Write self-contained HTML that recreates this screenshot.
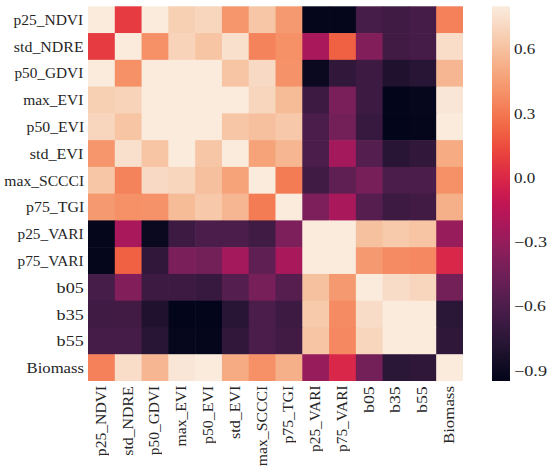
<!DOCTYPE html>
<html><head><meta charset="utf-8"><style>
html,body{margin:0;padding:0;background:#fff;width:550px;height:470px;overflow:hidden}
body{position:relative;font-family:"Liberation Serif",serif;font-size:14.5px;line-height:16px;color:#262626}
.t,.c,.r{position:absolute;white-space:nowrap;height:16px}
.t span{display:inline-block;transform-origin:100% 50%}
.c span{display:inline-block;transform-origin:0 50%}
.r{width:100px;text-align:right;transform-origin:0 0;transform:rotate(-90deg)}
.r span{display:inline-block;transform-origin:100% 50%}
</style></head><body>
<svg style="position:absolute;left:0;top:0" width="550" height="470" viewBox="0 0 550 470"><defs><linearGradient id="g" x1="0" y1="0" x2="0" y2="1"><stop offset="0.0000" stop-color="#faebdd"/><stop offset="0.0156" stop-color="#fae6d6"/><stop offset="0.0312" stop-color="#f9e0cd"/><stop offset="0.0469" stop-color="#f8dac5"/><stop offset="0.0625" stop-color="#f8d4bc"/><stop offset="0.0781" stop-color="#f7cfb3"/><stop offset="0.0938" stop-color="#f7c9aa"/><stop offset="0.1094" stop-color="#f7c2a2"/><stop offset="0.1250" stop-color="#f6bc99"/><stop offset="0.1406" stop-color="#f6b691"/><stop offset="0.1562" stop-color="#f6b089"/><stop offset="0.1719" stop-color="#f6a981"/><stop offset="0.1875" stop-color="#f6a37a"/><stop offset="0.2031" stop-color="#f69c73"/><stop offset="0.2188" stop-color="#f5966c"/><stop offset="0.2344" stop-color="#f58f66"/><stop offset="0.2500" stop-color="#f58860"/><stop offset="0.2656" stop-color="#f4815a"/><stop offset="0.2812" stop-color="#f47a54"/><stop offset="0.2969" stop-color="#f3734e"/><stop offset="0.3125" stop-color="#f26b49"/><stop offset="0.3281" stop-color="#f16445"/><stop offset="0.3438" stop-color="#f05c42"/><stop offset="0.3594" stop-color="#ee543f"/><stop offset="0.3750" stop-color="#ec4c3e"/><stop offset="0.3906" stop-color="#ea443e"/><stop offset="0.4062" stop-color="#e73d3f"/><stop offset="0.4219" stop-color="#e33641"/><stop offset="0.4375" stop-color="#df2f44"/><stop offset="0.4531" stop-color="#db2946"/><stop offset="0.4688" stop-color="#d62449"/><stop offset="0.4844" stop-color="#d11f4c"/><stop offset="0.5000" stop-color="#cb1b4f"/><stop offset="0.5156" stop-color="#c51852"/><stop offset="0.5312" stop-color="#bf1654"/><stop offset="0.5469" stop-color="#b91657"/><stop offset="0.5625" stop-color="#b21758"/><stop offset="0.5781" stop-color="#ab185a"/><stop offset="0.5938" stop-color="#a4195b"/><stop offset="0.6094" stop-color="#9e1a5b"/><stop offset="0.6250" stop-color="#971c5b"/><stop offset="0.6406" stop-color="#901d5b"/><stop offset="0.6562" stop-color="#891e5b"/><stop offset="0.6719" stop-color="#821e5a"/><stop offset="0.6875" stop-color="#7b1f59"/><stop offset="0.7031" stop-color="#751f58"/><stop offset="0.7188" stop-color="#6e1f57"/><stop offset="0.7344" stop-color="#681f55"/><stop offset="0.7500" stop-color="#611f53"/><stop offset="0.7656" stop-color="#5b1e51"/><stop offset="0.7812" stop-color="#541e4e"/><stop offset="0.7969" stop-color="#4e1d4b"/><stop offset="0.8125" stop-color="#481c48"/><stop offset="0.8281" stop-color="#421b45"/><stop offset="0.8438" stop-color="#3c1a42"/><stop offset="0.8594" stop-color="#35193e"/><stop offset="0.8750" stop-color="#30173a"/><stop offset="0.8906" stop-color="#2a1636"/><stop offset="0.9062" stop-color="#241432"/><stop offset="0.9219" stop-color="#1e122d"/><stop offset="0.9375" stop-color="#180f29"/><stop offset="0.9531" stop-color="#130d25"/><stop offset="0.9688" stop-color="#0d0a21"/><stop offset="0.9844" stop-color="#07071d"/><stop offset="1.0000" stop-color="#03051a"/></linearGradient></defs><rect x="88.00" y="6.30" width="27.39" height="27.36" fill="#faebdd"/><rect x="114.79" y="6.30" width="27.39" height="27.36" fill="#e63b40"/><rect x="141.57" y="6.30" width="27.39" height="27.36" fill="#faebdd"/><rect x="168.36" y="6.30" width="27.39" height="27.36" fill="#f7cfb3"/><rect x="195.14" y="6.30" width="27.39" height="27.36" fill="#f8d6be"/><rect x="221.93" y="6.30" width="27.39" height="27.36" fill="#f5966c"/><rect x="248.71" y="6.30" width="27.39" height="27.36" fill="#f7c6a6"/><rect x="275.50" y="6.30" width="27.39" height="27.36" fill="#f59970"/><rect x="302.29" y="6.30" width="27.39" height="27.36" fill="#05061b"/><rect x="329.07" y="6.30" width="27.39" height="27.36" fill="#05061b"/><rect x="355.86" y="6.30" width="27.39" height="27.36" fill="#461c48"/><rect x="382.64" y="6.30" width="27.39" height="27.36" fill="#401b44"/><rect x="409.43" y="6.30" width="27.39" height="27.36" fill="#451c47"/><rect x="436.21" y="6.30" width="26.79" height="27.36" fill="#f4815a"/><rect x="88.00" y="33.06" width="27.39" height="27.36" fill="#e63b40"/><rect x="114.79" y="33.06" width="27.39" height="27.36" fill="#faebdd"/><rect x="141.57" y="33.06" width="27.39" height="27.36" fill="#f59067"/><rect x="168.36" y="33.06" width="27.39" height="27.36" fill="#f8d3ba"/><rect x="195.14" y="33.06" width="27.39" height="27.36" fill="#f7c4a4"/><rect x="221.93" y="33.06" width="27.39" height="27.36" fill="#f9e0cd"/><rect x="248.71" y="33.06" width="27.39" height="27.36" fill="#f4835b"/><rect x="275.50" y="33.06" width="27.39" height="27.36" fill="#f59067"/><rect x="302.29" y="33.06" width="27.39" height="27.36" fill="#a8185a"/><rect x="329.07" y="33.06" width="27.39" height="27.36" fill="#f06043"/><rect x="355.86" y="33.06" width="27.39" height="27.36" fill="#821e5a"/><rect x="382.64" y="33.06" width="27.39" height="27.36" fill="#421b45"/><rect x="409.43" y="33.06" width="27.39" height="27.36" fill="#451c47"/><rect x="436.21" y="33.06" width="26.79" height="27.36" fill="#f9ddc9"/><rect x="88.00" y="59.83" width="27.39" height="27.36" fill="#faebdd"/><rect x="114.79" y="59.83" width="27.39" height="27.36" fill="#f59067"/><rect x="141.57" y="59.83" width="27.39" height="27.36" fill="#faebdd"/><rect x="168.36" y="59.83" width="27.39" height="27.36" fill="#faebdd"/><rect x="195.14" y="59.83" width="27.39" height="27.36" fill="#faebdd"/><rect x="221.93" y="59.83" width="27.39" height="27.36" fill="#f7c4a4"/><rect x="248.71" y="59.83" width="27.39" height="27.36" fill="#f8d9c3"/><rect x="275.50" y="59.83" width="27.39" height="27.36" fill="#f59269"/><rect x="302.29" y="59.83" width="27.39" height="27.36" fill="#0a091f"/><rect x="329.07" y="59.83" width="27.39" height="27.36" fill="#31183b"/><rect x="355.86" y="59.83" width="27.39" height="27.36" fill="#3d1a42"/><rect x="382.64" y="59.83" width="27.39" height="27.36" fill="#20122e"/><rect x="409.43" y="59.83" width="27.39" height="27.36" fill="#281535"/><rect x="436.21" y="59.83" width="26.79" height="27.36" fill="#f6b691"/><rect x="88.00" y="86.59" width="27.39" height="27.36" fill="#f7cfb3"/><rect x="114.79" y="86.59" width="27.39" height="27.36" fill="#f8d3ba"/><rect x="141.57" y="86.59" width="27.39" height="27.36" fill="#faebdd"/><rect x="168.36" y="86.59" width="27.39" height="27.36" fill="#faebdd"/><rect x="195.14" y="86.59" width="27.39" height="27.36" fill="#faebdd"/><rect x="221.93" y="86.59" width="27.39" height="27.36" fill="#faebdd"/><rect x="248.71" y="86.59" width="27.39" height="27.36" fill="#f8d6be"/><rect x="275.50" y="86.59" width="27.39" height="27.36" fill="#f6bb97"/><rect x="302.29" y="86.59" width="27.39" height="27.36" fill="#3c1a42"/><rect x="329.07" y="86.59" width="27.39" height="27.36" fill="#7a1f59"/><rect x="355.86" y="86.59" width="27.39" height="27.36" fill="#3d1a42"/><rect x="382.64" y="86.59" width="27.39" height="27.36" fill="#03051a"/><rect x="409.43" y="86.59" width="27.39" height="27.36" fill="#06071c"/><rect x="436.21" y="86.59" width="26.79" height="27.36" fill="#fae6d6"/><rect x="88.00" y="113.36" width="27.39" height="27.36" fill="#f8d6be"/><rect x="114.79" y="113.36" width="27.39" height="27.36" fill="#f7c4a4"/><rect x="141.57" y="113.36" width="27.39" height="27.36" fill="#faebdd"/><rect x="168.36" y="113.36" width="27.39" height="27.36" fill="#faebdd"/><rect x="195.14" y="113.36" width="27.39" height="27.36" fill="#faebdd"/><rect x="221.93" y="113.36" width="27.39" height="27.36" fill="#f7c6a6"/><rect x="248.71" y="113.36" width="27.39" height="27.36" fill="#f6bf9d"/><rect x="275.50" y="113.36" width="27.39" height="27.36" fill="#f7c9aa"/><rect x="302.29" y="113.36" width="27.39" height="27.36" fill="#4b1d4a"/><rect x="329.07" y="113.36" width="27.39" height="27.36" fill="#731f58"/><rect x="355.86" y="113.36" width="27.39" height="27.36" fill="#37193f"/><rect x="382.64" y="113.36" width="27.39" height="27.36" fill="#03051a"/><rect x="409.43" y="113.36" width="27.39" height="27.36" fill="#05061b"/><rect x="436.21" y="113.36" width="26.79" height="27.36" fill="#faebdd"/><rect x="88.00" y="140.12" width="27.39" height="27.36" fill="#f5966c"/><rect x="114.79" y="140.12" width="27.39" height="27.36" fill="#f9e0cd"/><rect x="141.57" y="140.12" width="27.39" height="27.36" fill="#f7c4a4"/><rect x="168.36" y="140.12" width="27.39" height="27.36" fill="#faebdd"/><rect x="195.14" y="140.12" width="27.39" height="27.36" fill="#f7c6a6"/><rect x="221.93" y="140.12" width="27.39" height="27.36" fill="#faebdd"/><rect x="248.71" y="140.12" width="27.39" height="27.36" fill="#f6a37a"/><rect x="275.50" y="140.12" width="27.39" height="27.36" fill="#f6b691"/><rect x="302.29" y="140.12" width="27.39" height="27.36" fill="#4b1d4a"/><rect x="329.07" y="140.12" width="27.39" height="27.36" fill="#a4195b"/><rect x="355.86" y="140.12" width="27.39" height="27.36" fill="#541e4e"/><rect x="382.64" y="140.12" width="27.39" height="27.36" fill="#281535"/><rect x="409.43" y="140.12" width="27.39" height="27.36" fill="#31183b"/><rect x="436.21" y="140.12" width="26.79" height="27.36" fill="#f6ab83"/><rect x="88.00" y="166.89" width="27.39" height="27.36" fill="#f7c6a6"/><rect x="114.79" y="166.89" width="27.39" height="27.36" fill="#f4835b"/><rect x="141.57" y="166.89" width="27.39" height="27.36" fill="#f8d9c3"/><rect x="168.36" y="166.89" width="27.39" height="27.36" fill="#f8d6be"/><rect x="195.14" y="166.89" width="27.39" height="27.36" fill="#f6bf9d"/><rect x="221.93" y="166.89" width="27.39" height="27.36" fill="#f6a37a"/><rect x="248.71" y="166.89" width="27.39" height="27.36" fill="#faebdd"/><rect x="275.50" y="166.89" width="27.39" height="27.36" fill="#f47c55"/><rect x="302.29" y="166.89" width="27.39" height="27.36" fill="#401b44"/><rect x="329.07" y="166.89" width="27.39" height="27.36" fill="#601f52"/><rect x="355.86" y="166.89" width="27.39" height="27.36" fill="#761f58"/><rect x="382.64" y="166.89" width="27.39" height="27.36" fill="#4b1d4a"/><rect x="409.43" y="166.89" width="27.39" height="27.36" fill="#4b1d4a"/><rect x="436.21" y="166.89" width="26.79" height="27.36" fill="#f59067"/><rect x="88.00" y="193.65" width="27.39" height="27.36" fill="#f59970"/><rect x="114.79" y="193.65" width="27.39" height="27.36" fill="#f59067"/><rect x="141.57" y="193.65" width="27.39" height="27.36" fill="#f59269"/><rect x="168.36" y="193.65" width="27.39" height="27.36" fill="#f6bb97"/><rect x="195.14" y="193.65" width="27.39" height="27.36" fill="#f7c9aa"/><rect x="221.93" y="193.65" width="27.39" height="27.36" fill="#f6b691"/><rect x="248.71" y="193.65" width="27.39" height="27.36" fill="#f47c55"/><rect x="275.50" y="193.65" width="27.39" height="27.36" fill="#faebdd"/><rect x="302.29" y="193.65" width="27.39" height="27.36" fill="#7d1f5a"/><rect x="329.07" y="193.65" width="27.39" height="27.36" fill="#a8185a"/><rect x="355.86" y="193.65" width="27.39" height="27.36" fill="#561e4f"/><rect x="382.64" y="193.65" width="27.39" height="27.36" fill="#3c1a42"/><rect x="409.43" y="193.65" width="27.39" height="27.36" fill="#421b45"/><rect x="436.21" y="193.65" width="26.79" height="27.36" fill="#f6b089"/><rect x="88.00" y="220.41" width="27.39" height="27.36" fill="#05061b"/><rect x="114.79" y="220.41" width="27.39" height="27.36" fill="#a8185a"/><rect x="141.57" y="220.41" width="27.39" height="27.36" fill="#0a091f"/><rect x="168.36" y="220.41" width="27.39" height="27.36" fill="#3c1a42"/><rect x="195.14" y="220.41" width="27.39" height="27.36" fill="#4b1d4a"/><rect x="221.93" y="220.41" width="27.39" height="27.36" fill="#4b1d4a"/><rect x="248.71" y="220.41" width="27.39" height="27.36" fill="#401b44"/><rect x="275.50" y="220.41" width="27.39" height="27.36" fill="#7d1f5a"/><rect x="302.29" y="220.41" width="27.39" height="27.36" fill="#faebdd"/><rect x="329.07" y="220.41" width="27.39" height="27.36" fill="#faebdd"/><rect x="355.86" y="220.41" width="27.39" height="27.36" fill="#f6c19f"/><rect x="382.64" y="220.41" width="27.39" height="27.36" fill="#f7caac"/><rect x="409.43" y="220.41" width="27.39" height="27.36" fill="#f7c4a4"/><rect x="436.21" y="220.41" width="26.79" height="27.36" fill="#971c5b"/><rect x="88.00" y="247.18" width="27.39" height="27.36" fill="#05061b"/><rect x="114.79" y="247.18" width="27.39" height="27.36" fill="#f06043"/><rect x="141.57" y="247.18" width="27.39" height="27.36" fill="#31183b"/><rect x="168.36" y="247.18" width="27.39" height="27.36" fill="#7a1f59"/><rect x="195.14" y="247.18" width="27.39" height="27.36" fill="#731f58"/><rect x="221.93" y="247.18" width="27.39" height="27.36" fill="#a4195b"/><rect x="248.71" y="247.18" width="27.39" height="27.36" fill="#601f52"/><rect x="275.50" y="247.18" width="27.39" height="27.36" fill="#a8185a"/><rect x="302.29" y="247.18" width="27.39" height="27.36" fill="#faebdd"/><rect x="329.07" y="247.18" width="27.39" height="27.36" fill="#faebdd"/><rect x="355.86" y="247.18" width="27.39" height="27.36" fill="#f59970"/><rect x="382.64" y="247.18" width="27.39" height="27.36" fill="#f58b63"/><rect x="409.43" y="247.18" width="27.39" height="27.36" fill="#f58860"/><rect x="436.21" y="247.18" width="26.79" height="27.36" fill="#d82748"/><rect x="88.00" y="273.94" width="27.39" height="27.36" fill="#461c48"/><rect x="114.79" y="273.94" width="27.39" height="27.36" fill="#821e5a"/><rect x="141.57" y="273.94" width="27.39" height="27.36" fill="#3d1a42"/><rect x="168.36" y="273.94" width="27.39" height="27.36" fill="#3d1a42"/><rect x="195.14" y="273.94" width="27.39" height="27.36" fill="#37193f"/><rect x="221.93" y="273.94" width="27.39" height="27.36" fill="#541e4e"/><rect x="248.71" y="273.94" width="27.39" height="27.36" fill="#761f58"/><rect x="275.50" y="273.94" width="27.39" height="27.36" fill="#561e4f"/><rect x="302.29" y="273.94" width="27.39" height="27.36" fill="#f6c19f"/><rect x="329.07" y="273.94" width="27.39" height="27.36" fill="#f59970"/><rect x="355.86" y="273.94" width="27.39" height="27.36" fill="#faebdd"/><rect x="382.64" y="273.94" width="27.39" height="27.36" fill="#f8dcc7"/><rect x="409.43" y="273.94" width="27.39" height="27.36" fill="#f8d6be"/><rect x="436.21" y="273.94" width="26.79" height="27.36" fill="#731f58"/><rect x="88.00" y="300.71" width="27.39" height="27.36" fill="#401b44"/><rect x="114.79" y="300.71" width="27.39" height="27.36" fill="#421b45"/><rect x="141.57" y="300.71" width="27.39" height="27.36" fill="#20122e"/><rect x="168.36" y="300.71" width="27.39" height="27.36" fill="#03051a"/><rect x="195.14" y="300.71" width="27.39" height="27.36" fill="#03051a"/><rect x="221.93" y="300.71" width="27.39" height="27.36" fill="#281535"/><rect x="248.71" y="300.71" width="27.39" height="27.36" fill="#4b1d4a"/><rect x="275.50" y="300.71" width="27.39" height="27.36" fill="#3c1a42"/><rect x="302.29" y="300.71" width="27.39" height="27.36" fill="#f7caac"/><rect x="329.07" y="300.71" width="27.39" height="27.36" fill="#f58b63"/><rect x="355.86" y="300.71" width="27.39" height="27.36" fill="#f8dcc7"/><rect x="382.64" y="300.71" width="27.39" height="27.36" fill="#faebdd"/><rect x="409.43" y="300.71" width="27.39" height="27.36" fill="#faebdd"/><rect x="436.21" y="300.71" width="26.79" height="27.36" fill="#2a1636"/><rect x="88.00" y="327.47" width="27.39" height="27.36" fill="#451c47"/><rect x="114.79" y="327.47" width="27.39" height="27.36" fill="#451c47"/><rect x="141.57" y="327.47" width="27.39" height="27.36" fill="#281535"/><rect x="168.36" y="327.47" width="27.39" height="27.36" fill="#06071c"/><rect x="195.14" y="327.47" width="27.39" height="27.36" fill="#05061b"/><rect x="221.93" y="327.47" width="27.39" height="27.36" fill="#31183b"/><rect x="248.71" y="327.47" width="27.39" height="27.36" fill="#4b1d4a"/><rect x="275.50" y="327.47" width="27.39" height="27.36" fill="#421b45"/><rect x="302.29" y="327.47" width="27.39" height="27.36" fill="#f7c4a4"/><rect x="329.07" y="327.47" width="27.39" height="27.36" fill="#f58860"/><rect x="355.86" y="327.47" width="27.39" height="27.36" fill="#f8d6be"/><rect x="382.64" y="327.47" width="27.39" height="27.36" fill="#faebdd"/><rect x="409.43" y="327.47" width="27.39" height="27.36" fill="#faebdd"/><rect x="436.21" y="327.47" width="26.79" height="27.36" fill="#2e1739"/><rect x="88.00" y="354.24" width="27.39" height="26.76" fill="#f4815a"/><rect x="114.79" y="354.24" width="27.39" height="26.76" fill="#f9ddc9"/><rect x="141.57" y="354.24" width="27.39" height="26.76" fill="#f6b691"/><rect x="168.36" y="354.24" width="27.39" height="26.76" fill="#fae6d6"/><rect x="195.14" y="354.24" width="27.39" height="26.76" fill="#faebdd"/><rect x="221.93" y="354.24" width="27.39" height="26.76" fill="#f6ab83"/><rect x="248.71" y="354.24" width="27.39" height="26.76" fill="#f59067"/><rect x="275.50" y="354.24" width="27.39" height="26.76" fill="#f6b089"/><rect x="302.29" y="354.24" width="27.39" height="26.76" fill="#971c5b"/><rect x="329.07" y="354.24" width="27.39" height="26.76" fill="#d82748"/><rect x="355.86" y="354.24" width="27.39" height="26.76" fill="#731f58"/><rect x="382.64" y="354.24" width="27.39" height="26.76" fill="#2a1636"/><rect x="409.43" y="354.24" width="27.39" height="26.76" fill="#2e1739"/><rect x="436.21" y="354.24" width="26.79" height="26.76" fill="#faebdd"/><rect x="492" y="6.3" width="18" height="374.7" fill="url(#g)"/></svg>

<div class="t" style="right:466.30px;top:11.91px"><span style="transform:scaleX(1.0701)">p25_NDVI</span></div><div class="t" style="right:466.30px;top:38.69px"><span style="transform:scaleX(1.0971)">std_NDRE</span></div><div class="t" style="right:466.30px;top:65.48px"><span style="transform:scaleX(1.0553)">p50_GDVI</span></div><div class="t" style="right:466.30px;top:92.26px"><span style="transform:scaleX(1.0687)">max_EVI</span></div><div class="t" style="right:466.30px;top:119.05px"><span style="transform:scaleX(1.0831)">p50_EVI</span></div><div class="t" style="right:466.30px;top:145.83px"><span style="transform:scaleX(1.1107)">std_EVI</span></div><div class="t" style="right:466.30px;top:172.62px"><span style="transform:scaleX(1.0769)">max_SCCCI</span></div><div class="t" style="right:466.30px;top:199.41px"><span style="transform:scaleX(1.0935)">p75_TGI</span></div><div class="t" style="right:466.30px;top:226.19px"><span style="transform:scaleX(1.0552)">p25_VARI</span></div><div class="t" style="right:466.30px;top:252.98px"><span style="transform:scaleX(1.0552)">p75_VARI</span></div><div class="t" style="right:466.30px;top:279.76px"><span style="transform:scaleX(1.2494)">b05</span></div><div class="t" style="right:466.30px;top:306.55px"><span style="transform:scaleX(1.2494)">b35</span></div><div class="t" style="right:466.30px;top:333.33px"><span style="transform:scaleX(1.2494)">b55</span></div><div class="t" style="right:466.30px;top:360.12px"><span style="transform:scaleX(1.1483)">Biomass</span></div><div class="r" style="left:92.80px;top:486.40px"><span style="transform:scaleX(1.0797)">p25_NDVI</span></div><div class="r" style="left:119.58px;top:486.40px"><span style="transform:scaleX(1.0907)">std_NDRE</span></div><div class="r" style="left:146.37px;top:486.40px"><span style="transform:scaleX(1.0649)">p50_GDVI</span></div><div class="r" style="left:173.16px;top:486.40px"><span style="transform:scaleX(1.0797)">max_EVI</span></div><div class="r" style="left:199.94px;top:486.40px"><span style="transform:scaleX(1.0949)">p50_EVI</span></div><div class="r" style="left:226.73px;top:486.40px"><span style="transform:scaleX(1.1021)">std_EVI</span></div><div class="r" style="left:253.51px;top:486.40px"><span style="transform:scaleX(1.0851)">max_SCCCI</span></div><div class="r" style="left:280.30px;top:486.40px"><span style="transform:scaleX(1.0857)">p75_TGI</span></div><div class="r" style="left:307.08px;top:485.40px"><span style="transform:scaleX(1.0648)">p25_VARI</span></div><div class="r" style="left:333.87px;top:485.40px"><span style="transform:scaleX(1.0648)">p75_VARI</span></div><div class="r" style="left:360.66px;top:486.40px"><span style="transform:scaleX(1.2299)">b05</span></div><div class="r" style="left:387.44px;top:486.40px"><span style="transform:scaleX(1.2299)">b35</span></div><div class="r" style="left:414.23px;top:486.40px"><span style="transform:scaleX(1.2299)">b55</span></div><div class="r" style="left:441.01px;top:486.40px"><span style="transform:scaleX(1.1608)">Biomass</span></div><div class="c" style="left:514.30px;top:41.25px"><span style="transform:scaleX(1.1737)">0.6</span></div><div class="c" style="left:514.30px;top:105.55px"><span style="transform:scaleX(1.1737)">0.3</span></div><div class="c" style="left:514.30px;top:169.86px"><span style="transform:scaleX(1.1737)">0.0</span></div><div class="c" style="left:514.30px;top:234.17px"><span style="transform:scaleX(1.2537)">−0.3</span></div><div class="c" style="left:514.30px;top:298.48px"><span style="transform:scaleX(1.2133)">−0.6</span></div><div class="c" style="left:514.30px;top:362.79px"><span style="transform:scaleX(1.2537)">−0.9</span></div>
</body></html>
